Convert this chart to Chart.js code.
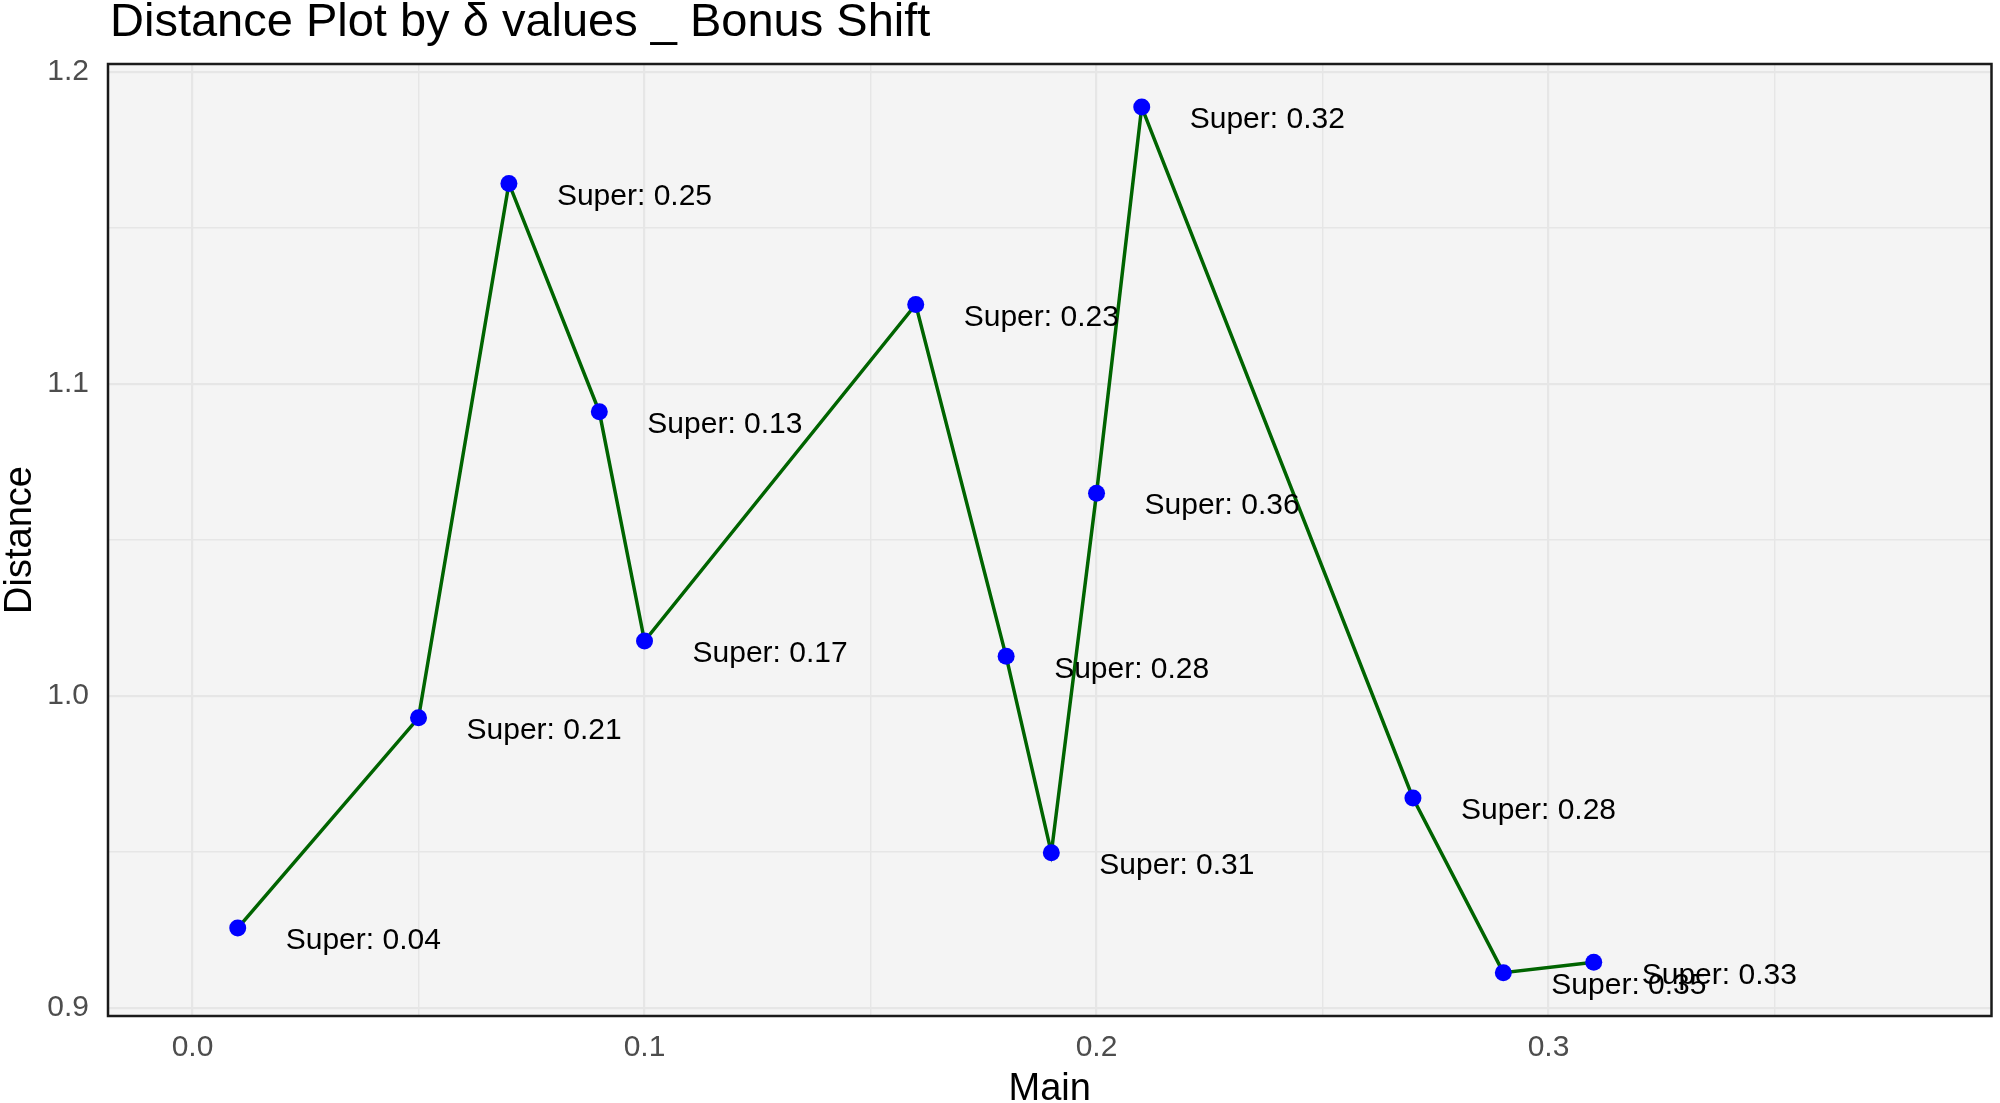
<!DOCTYPE html>
<html>
<head>
<meta charset="utf-8">
<title>Distance Plot</title>
<script src="https://cdn.jsdelivr.net/npm/chart.js@4.4.1/dist/chart.umd.min.js"></script>
<style>
    html, body { margin: 0; padding: 0; background: #ffffff; }
    #wrap { width: 2000px; height: 1103px; position: relative; }
</style>
</head>
<body>
<div id="wrap"><canvas id="distPlot"></canvas></div>
<script>
// values
const mainValues = [0.01, 0.05, 0.07, 0.09, 0.10, 0.16, 0.18, 0.19, 0.20, 0.21, 0.27, 0.29, 0.31];
const distanceValues = [0.9256, 0.993, 1.1643, 1.0911, 1.0176, 1.1255, 1.0127, 0.9497, 1.065, 1.1888, 0.9673, 0.9113, 0.9146];
const superValues = [0.04, 0.21, 0.25, 0.13, 0.17, 0.23, 0.28, 0.31, 0.36, 0.32, 0.28, 0.35, 0.33];

const xTickValues = [0.0, 0.1, 0.2, 0.3];
const xTickLabels = ['0.0', '0.1', '0.2', '0.3'];
const xMinorValues = [0.05, 0.15, 0.25, 0.35];
const yTickValues = [0.9, 1.0, 1.1, 1.2];
const yTickLabels = ['0.9', '1.0', '1.1', '1.2'];
const yMinorValues = [0.95, 1.05, 1.15];

document.addEventListener('DOMContentLoaded', () => {

    if (typeof Chart === 'undefined') {
        console.error("Chart.js failed to load.");
        return;
    }

    const ctx = document.getElementById('distPlot');
    if (!ctx) return;

    // ggplot-ish palette
    const lineGreen = '#006400';
    const pointBlue = '#0000ff';
    const panelGrey = '#f4f4f4';
    const gridGrey = '#e6e6e6';
    const tickGrey = '#4d4d4d';
    const fontName = '"Liberation Sans", Arial, sans-serif';

    const isMajor = (list, v) => list.some(t => Math.abs(t - v) < 1e-9);

    // panel fill, border box, title and point labels
    const plotDecor = {
        id: 'plotDecor',
        beforeDraw(chart) {
            const c = chart.ctx;
            const a = chart.chartArea;
            c.save();
            c.fillStyle = '#ffffff';
            c.fillRect(0, 0, chart.width, chart.height);
            c.fillStyle = panelGrey;
            c.fillRect(a.left, a.top, a.right - a.left, a.bottom - a.top);
            c.restore();
        },
        afterDatasetsDraw(chart) {
            const c = chart.ctx;
            const xs = chart.scales.x;
            const ys = chart.scales.y;
            c.save();
            c.fillStyle = '#000000';
            c.font = '30px ' + fontName;
            c.textAlign = 'left';
            c.textBaseline = 'middle';
            mainValues.forEach((m, i) => {
                const px = xs.getPixelForValue(m) + 48;
                const py = ys.getPixelForValue(distanceValues[i]) + 13;
                c.fillText('Super: ' + superValues[i].toFixed(2), px, py);
            });
            c.restore();
        },
        afterDraw(chart) {
            const c = chart.ctx;
            const a = chart.chartArea;
            c.save();
            c.strokeStyle = '#1a1a1a';
            c.lineWidth = 2.5;
            c.strokeRect(a.left, a.top, a.right - a.left, a.bottom - a.top);
            c.fillStyle = '#000000';
            c.font = '47px ' + fontName;
            c.textAlign = 'left';
            c.textBaseline = 'alphabetic';
            c.fillText('Distance Plot by δ values _ Bonus Shift', a.left + 2, 36);
            c.restore();
        }
    };

    const data = {
        datasets: [{
            label: 'Distance',
            data: mainValues.map((m, i) => ({ x: m, y: distanceValues[i] })),
            showLine: true,
            borderColor: lineGreen,
            borderWidth: 3.5,
            pointBackgroundColor: pointBlue,
            pointBorderColor: pointBlue,
            pointBorderWidth: 0,
            pointRadius: 8.5,
            tension: 0
        }]
    };

    const config = {
        type: 'scatter',
        data: data,
        options: {
            responsive: true,
            maintainAspectRatio: false,
            animation: false,
            devicePixelRatio: 1,
            layout: {
                padding: { top: 64, right: -6, left: 0, bottom: 0 }
            },
            plugins: {
                legend: { display: false },
                tooltip: { enabled: false },
                title: { display: false }
            },
            scales: {
                x: {
                    type: 'linear',
                    min: -0.0187,
                    max: 0.398,
                    afterBuildTicks: (scale) => {
                        scale.ticks = xTickValues.concat(xMinorValues)
                            .sort((p, q) => p - q)
                            .map(v => ({ value: v }));
                    },
                    afterFit: (scale) => { scale.height = 87; },
                    border: { display: false },
                    grid: {
                        drawTicks: false,
                        color: gridGrey,
                        lineWidth: (c) => isMajor(xTickValues, c.tick.value) ? 2.2 : 1.4
                    },
                    ticks: {
                        autoSkip: false,
                        maxRotation: 0,
                        padding: 14,
                        color: tickGrey,
                        font: { family: fontName, size: 30 },
                        callback: function(value) {
                            const k = xTickValues.findIndex(t => Math.abs(t - value) < 1e-9);
                            return k >= 0 ? xTickLabels[k] : '';
                        }
                    },
                    title: {
                        display: true,
                        text: 'Main',
                        color: '#000000',
                        font: { family: fontName, size: 38, lineHeight: 0.8 },
                        padding: { top: 0, bottom: -2 }
                    }
                },
                y: {
                    type: 'linear',
                    min: 0.8974,
                    max: 1.2026,
                    afterBuildTicks: (scale) => {
                        scale.ticks = yTickValues.concat(yMinorValues)
                            .sort((p, q) => p - q)
                            .map(v => ({ value: v }));
                    },
                    afterFit: (scale) => { scale.width = 108; },
                    border: { display: false },
                    grid: {
                        drawTicks: false,
                        color: gridGrey,
                        lineWidth: (c) => isMajor(yTickValues, c.tick.value) ? 2.2 : 1.4
                    },
                    ticks: {
                        autoSkip: false,
                        padding: 19,
                        color: tickGrey,
                        font: { family: fontName, size: 30 },
                        callback: function(value) {
                            const k = yTickValues.findIndex(t => Math.abs(t - value) < 1e-9);
                            return k >= 0 ? yTickLabels[k] : '';
                        }
                    },
                    title: {
                        display: true,
                        text: 'Distance',
                        color: '#000000',
                        font: { family: fontName, size: 38, lineHeight: 0.8 },
                        padding: { top: 5, bottom: 0 }
                    }
                }
            }
        },
        plugins: [plotDecor]
    };

    new Chart(ctx, config);
});
</script>
</body>
</html>
